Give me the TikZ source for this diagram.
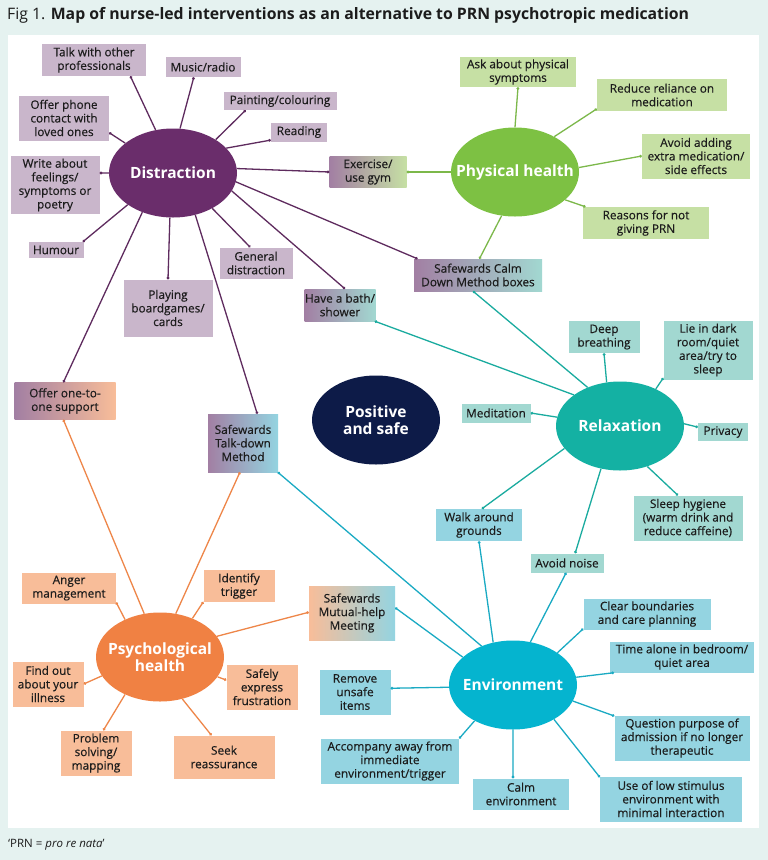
\documentclass[tikz,border=0pt]{standalone}
\usepackage{fontspec}
\setmainfont{Open Sans}
\newfontfamily\leaffont{Open Sans}[FakeBold=0.35]
\usepackage{tikz}
\usetikzlibrary{shapes.geometric, arrows.meta}
\definecolor{mint}{HTML}{E5F2F0}
\definecolor{inkdark}{HTML}{1C1C1C}
\definecolor{distdeep}{HTML}{6A2D6B}
\definecolor{distsoft}{HTML}{C9B6CB}
\definecolor{distline}{HTML}{5E2B5E}
\definecolor{mauve}{HTML}{A27FA3}
\definecolor{physdeep}{HTML}{7DC143}
\definecolor{physsoft}{HTML}{C6E0A4}
\definecolor{physline}{HTML}{7CB84A}
\definecolor{relaxdeep}{HTML}{14B1A3}
\definecolor{relaxsoft}{HTML}{A2D8D1}
\definecolor{relaxline}{HTML}{1AAB9F}
\definecolor{envdeep}{HTML}{05B4CF}
\definecolor{envsoft}{HTML}{94D4E1}
\definecolor{envline}{HTML}{1AAAC3}
\definecolor{psydeep}{HTML}{F08143}
\definecolor{psysoft}{HTML}{F8BD99}
\definecolor{psyline}{HTML}{EE8649}
\definecolor{navy}{HTML}{0D1B48}

\begin{document}
\begin{tikzpicture}[
    x=1pt, y=-1pt,
    hub/.style={ellipse, fill=#1, minimum width=128pt, minimum height=89pt,
                inner xsep=-24pt, inner ysep=0pt, text=white, align=center,
                font=\bfseries\fontsize{15.5}{17.5}\selectfont},
    leaf/.style={fill=#1, inner sep=0pt, align=center, text=inkdark,
                 font=\leaffont\fontsize{11.8}{13.6}\selectfont},
    sz/.style 2 args={minimum width=#1pt, minimum height=#2pt},
    link/.style={draw=#1, line width=1.3pt, -{Circle[length=2.6pt]}}
]
    % Frame
    \useasboundingbox (0,0) rectangle (768,860);
    \fill[mint] (0,0) rectangle (768,860);
    \fill[white] (8,35) rectangle (759,828);
    \node[anchor=west, inner sep=0pt, text=inkdark, font=\fontsize{15.8}{18}\selectfont] (title) at (7,15)
        {Fig 1. \textbf{Map of nurse-led interventions as an alternative to PRN psychotropic medication}};
    \node[anchor=west, inner sep=0pt, text=inkdark, font=\fontsize{11.5}{13}\selectfont] (note) at (8,845)
        {`PRN = \textit{pro re nata}'};

    % Hubs
    \node[hub=distdeep] (dist) at (173,173) {Distraction};
    \node[hub=physdeep] (phys) at (515,172) {Physical health};
    \node[hub=relaxdeep] (relax) at (620,426) {Relaxation};
    \node[hub=envdeep] (env) at (513,685) {Environment};
    \node[hub=psydeep] (psy) at (160,657) {Psychological\\health};
    \node[hub=navy] (safe) at (376,420) {Positive\\and safe};

    % Distraction boxes
    \node[leaf=distsoft, sz={104}{32}] (talk) at (94,60) {Talk with other\\professionals};
    \node[leaf=distsoft, sz={75}{20}] (music) at (203,67) {Music/radio};
    \node[leaf=distsoft, sz={113}{18}] (paint) at (280,101) {Painting/colouring};
    \node[leaf=distsoft, sz={56}{19}] (read) at (299,132) {Reading};
    \node[leaf=distsoft, sz={90}{45}] (phone) at (64,118) {Offer phone\\contact with\\loved ones};
    \node[leaf=distsoft, sz={89}{58}] (write) at (55,185) {Write about\\feelings/\\symptoms or\\poetry};
    \node[leaf=distsoft, sz={55}{16}] (humour) at (56,250) {Humour};
    \node[leaf=distsoft, sz={73}{31}] (general) at (256,263) {General\\distraction};
    \node[leaf=distsoft, sz={89}{57}] (games) at (168,308) {Playing\\boardgames/\\cards};

    % Physical health boxes
    \node[leaf=physsoft, sz={116}{30}] (ask) at (518,72) {Ask about physical\\symptoms};
    \node[leaf=physsoft, sz={130}{32}] (reduce) at (662,95) {Reduce reliance on\\medication};
    \node[leaf=physsoft, sz={108}{45}] (avoidadd) at (696,156) {Avoid adding\\extra medication/\\side effects};
    \node[leaf=physsoft, sz={126}{32}] (reasons) at (646,223) {Reasons for not\\giving PRN};

    % Relaxation boxes
    \node[leaf=relaxsoft, sz={71}{32}] (deep) at (604,337) {Deep\\breathing};
    \node[leaf=relaxsoft, sz={89}{59}] (darkroom) at (708,350) {Lie in dark\\room/quiet\\area/try to\\sleep};
    \node[leaf=relaxsoft, sz={69}{19}] (meditation) at (496,413) {Meditation};
    \node[leaf=relaxsoft, sz={50}{18}] (privacy) at (723,432) {Privacy};
    \node[leaf=relaxsoft, sz={109}{45}] (sleephyg) at (688,518) {Sleep hygiene\\(warm drink and\\reduce caffeine)};
    \node[leaf=relaxsoft, sz={73}{19}] (noise) at (567,563) {Avoid noise};

    % Environment boxes
    \node[leaf=envsoft, sz={86}{32}] (walk) at (479,525) {Walk around\\grounds};
    \node[leaf=envsoft, sz={127}{31}] (bounds) at (647,614) {Clear boundaries\\and care planning};
    \node[leaf=envsoft, sz={144}{31}] (alone) at (682,657) {Time alone in bedroom/\\quiet area};
    \node[leaf=envsoft, sz={71}{45}] (unsafe) at (355,692) {Remove\\unsafe\\items};
    \node[leaf=envsoft, sz={135}{45}] (question) at (682,738) {Question purpose of\\admission if no longer\\therapeutic};
    \node[leaf=envsoft, sz={138}{45}] (accompany) at (390,761) {Accompany away from\\immediate\\environment/trigger};
    \node[leaf=envsoft, sz={96}{31}] (calmenv) at (521,794) {Calm\\environment};
    \node[leaf=envsoft, sz={142}{45}] (stimulus) at (671,799) {Use of low stimulus\\environment with\\minimal interaction};

    % Psychological health boxes
    \node[leaf=psysoft, sz={94}{31}] (anger) at (69,588) {Anger\\management};
    \node[leaf=psysoft, sz={71}{32}] (identify) at (239,586) {Identify\\trigger};
    \node[leaf=psysoft, sz={71}{45}] (findout) at (48,684) {Find out\\about your\\illness};
    \node[leaf=psysoft, sz={71}{45}] (safely) at (262,687) {Safely\\express\\frustration};
    \node[leaf=psysoft, sz={71}{45}] (problem) at (96,753) {Problem\\solving/\\mapping};
    \node[leaf=psysoft, sz={101}{43}] (seek) at (224,757) {Seek\\reassurance};

    % Shared boxes
    \node[leaf=white, left color=mauve, right color=physsoft, sz={77}{31}] (exercise) at (368,172) {Exercise/\\use gym};
    \node[leaf=white, left color=mauve, right color=relaxsoft, sz={71}{32}] (bath) at (340,305) {Have a bath/\\shower};
    \node[leaf=white, left color=mauve, middle color=physsoft, right color=relaxsoft, sz={128}{32}] (calm) at (478,275) {Safewards Calm\\Down Method boxes};
    \node[leaf=white, left color=mauve, right color=psysoft, sz={101}{37}] (onetoone) at (65,401) {Offer one-to-\\one support};
    \node[leaf=white, left color=mauve, middle color=psysoft, right color=envsoft, sz={70}{58}] (talkdown) at (243,443) {Safewards\\Talk-down\\Method};
    \node[leaf=white, left color=psysoft, right color=envsoft, sz={86}{54}] (mutual) at (352,613) {Safewards\\Mutual-help\\Meeting};

    % Distraction links
    \draw[link=distline] (dist.112) -- (talk.-24);
    \draw[link=distline] (dist.81) -- (music.-132);
    \draw[link=distline] (dist.38) -- (paint.-165);
    \draw[link=distline] (dist.25) -- (read.-164);
    \draw[link=distline] (dist.148) -- (phone.-18);
    \draw[link=distline] (dist.180) -- (write.15);
    \draw[link=distline] (dist.4) -- (exercise.180);
    \draw[link=distline] (dist.215) -- (humour.17);
    \draw[link=distline] (dist.266) -- (games.90);
    \draw[link=distline] (dist.-42) -- (general.110);
    \draw[link=distline] (dist.-17.5) -- (bath.73);
    \draw[link=distline] (dist.-8) -- (calm.165);
    \draw[link=distline] (dist.232) -- (onetoone.95);
    \draw[link=distline] (dist.-62) -- (talkdown.64);

    % Physical health links
    \draw[link=physline] (phys.90) -- (ask.-90);
    \draw[link=physline] (phys.42) -- (reduce.-168);
    \draw[link=physline] (phys.4) -- (avoidadd.180);
    \draw[link=physline] (phys.-29) -- (reasons.165);
    \draw[link=physline] (phys.180) -- (exercise.0);
    \draw[link=physline] (phys.253) -- (calm.85);

    % Relaxation links
    \draw[link=relaxline] (relax.130) -- (calm.-107);
    \draw[link=relaxline] (relax.146) -- (bath.-25);
    \draw[link=relaxline] (relax.107) -- (deep.-90);
    \draw[link=relaxline] (relax.46) -- (darkroom.-148);
    \draw[link=relaxline] (relax.172) -- (meditation.0);
    \draw[link=relaxline] (relax.2) -- (privacy.169);
    \draw[link=relaxline] (relax.-56) -- (sleephyg.114);
    \draw[link=relaxline] (relax.202) -- (walk.80);
    \draw[link=relaxline] (relax.246) -- (noise.50);

    % Environment links
    \draw[link=envline] (env.115) -- (walk.-90);
    \draw[link=envline] (env.68) -- (noise.-95);
    \draw[link=envline] (env.129) -- (talkdown.-40);
    \draw[link=envline] (env.151) -- (mutual.7);
    \draw[link=envline] (env.36) -- (bounds.-167);
    \draw[link=envline] (env.7) -- (alone.-167);
    \draw[link=envline] (env.182) -- (unsafe.6);
    \draw[link=envline] (env.-15.6) -- (question.162);
    \draw[link=envline] (env.223) -- (accompany.18);
    \draw[link=envline] (env.-90) -- (calmenv.117);
    \draw[link=envline] (env.-40) -- (stimulus.163);

    % Psychological health links
    \draw[link=psyline] (psy.110) -- (onetoone.-95);
    \draw[link=psyline] (psy.70) -- (talkdown.-96);
    \draw[link=psyline] (psy.133) -- (anger.-17);
    \draw[link=psyline] (psy.50) -- (identify.-156);
    \draw[link=psyline] (psy.20) -- (mutual.179);
    \draw[link=psyline] (psy.198) -- (findout.0);
    \draw[link=psyline] (psy.-19) -- (safely.169);
    \draw[link=psyline] (psy.227) -- (problem.72);
    \draw[link=psyline] (psy.-62) -- (seek.120);
\end{tikzpicture}
\end{document}
